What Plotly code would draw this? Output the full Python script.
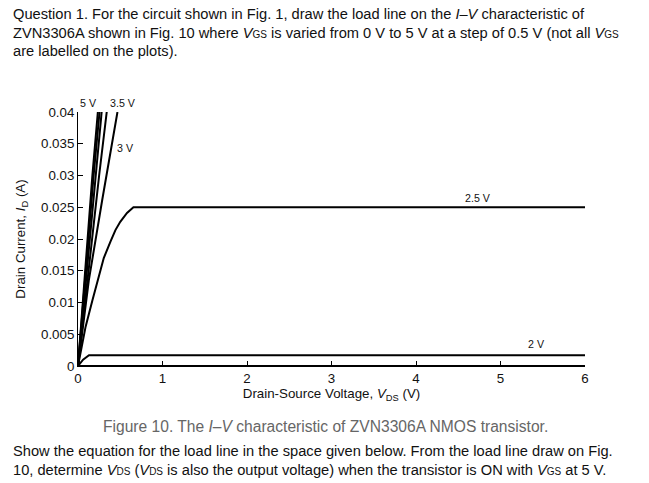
import plotly.graph_objects as go

# V_GS curves (V_DS in volts, I_D in amps)
vds_2v = [0, 0.06, 0.13, 6]
id_2v = [0, 0.001, 0.0017, 0.0017]
vds_25v = [0, 0.09, 0.17, 0.246, 0.305, 0.384, 0.443, 0.5, 0.58, 0.656, 6]
id_25v = [0, 0.0062, 0.0103, 0.0143, 0.017, 0.0196, 0.0214, 0.0227, 0.0241, 0.025, 0.025]
vds_3v = [0, 0.128, 0.286, 0.467]
id_3v = [0, 0.0135, 0.0261, 0.04]
vds_35v = [0, 0.08, 0.16, 0.25, 0.34]
id_35v = [0, 0.0095, 0.02, 0.03, 0.04]
vds_4v = [0, 0.07, 0.135, 0.205, 0.28]
id_4v = [0, 0.01, 0.02, 0.03, 0.04]
vds_45v = [0, 0.06, 0.12, 0.185, 0.255]
id_45v = [0, 0.01, 0.02, 0.03, 0.04]
vds_5v = [0, 0.055, 0.11, 0.17, 0.235]
id_5v = [0, 0.01, 0.02, 0.03, 0.04]
vds_off = [0, 6]
id_off = [0, 0]

x_ticks = [0, 1, 2, 3, 4, 5, 6]
y_ticks = [0, 0.005, 0.01, 0.015, 0.02, 0.025, 0.03, 0.035, 0.04]
y_labels = ["0", "0.005", "0.01", "0.015", "0.02", "0.025", "0.03", "0.035", "0.04"]

# the page body adds 8px around the figure, all pixel positions below are page pixels
PAGE = 8
W, H = 649 - PAGE, 483 - PAGE
LEFT, RIGHT, TOP, BOTTOM = 77.5, 585, 112, 366

fig = go.Figure()

curves = [(vds_off, id_off), (vds_2v, id_2v), (vds_25v, id_25v), (vds_3v, id_3v),
          (vds_35v, id_35v), (vds_4v, id_4v), (vds_45v, id_45v), (vds_5v, id_5v)]
for xs, ys in curves:
    fig.add_trace(go.Scatter(x=xs, y=ys, mode='lines', showlegend=False, cliponaxis=False,
                             line=dict(color='black', width=2)))


def px_text(x, y, text, size=14.67, color='#111111', anchor='left'):
    # text is placed by pixel position
    fig.add_annotation(xref='paper', yref='paper', x=(x - LEFT) / (RIGHT - LEFT),
                       y=(BOTTOM - y) / (BOTTOM - TOP), text=text, showarrow=False,
                       xanchor=anchor, yanchor='middle', align='left',
                       font=dict(size=size, color=color, family='Liberation Sans'))


# curve labels
px_text(88, 103, "5 V", size=10.67, anchor='center')
px_text(123, 103, "3.5 V", size=10.67, anchor='center')
px_text(125, 148, "3 V", size=10.67, anchor='center')
px_text(478, 198, "2.5 V", size=10.67, anchor='center')
px_text(536, 344, "2 V", size=10.67, anchor='center')

small = '<span style="font-size:10px">%s</span>'
px_text(10, 14, "Question 1. For the circuit shown in Fig. 1, draw the load line on the <i>I</i>–<i>V</i> characteristic of")
px_text(10, 33, "ZVN3306A shown in Fig. 10 where <i>V</i>" + small % "GS" +
        " is varied from 0 V to 5 V at a step of 0.5 V (not all <i>V</i>" + small % "GS")
px_text(10, 51, "are labelled on the plots).")
px_text(325, 426, "Figure 10. The <i>I</i>–<i>V</i> characteristic of ZVN3306A NMOS transistor.",
        size=15.6, color='#666666', anchor='center')
px_text(10, 451, "Show the equation for the load line in the space given below. From the load line draw on Fig.")
px_text(10, 470, "10, determine <i>V</i>" + small % "DS" + " (<i>V</i>" + small % "DS" +
        " is also the output voltage) when the transistor is ON with <i>V</i>" + small % "GS" + " at 5 V.")

fig.update_layout(
    width=W, height=H,
    margin=dict(l=LEFT - PAGE, r=W - (RIGHT - PAGE), t=TOP - PAGE, b=H - (BOTTOM - PAGE), pad=0),
    paper_bgcolor='white', plot_bgcolor='white',
    font=dict(family='Liberation Sans', size=13.33, color='#111111'),
)
fig.update_xaxes(range=[0, 6], tickmode='array', tickvals=x_ticks, ticks='inside', ticklen=5,
                 tickcolor='black', showgrid=False, zeroline=False, showline=True,
                 linecolor='black', linewidth=1,
                 title=dict(text="Drain-Source Voltage, <i>V</i><sub>DS</sub> (V)", standoff=3,
                            font=dict(size=13.33)))
fig.update_yaxes(range=[0, 0.04], tickmode='array', tickvals=y_ticks, ticktext=y_labels,
                 ticks='inside', ticklen=5, tickcolor='black', showgrid=False, zeroline=False,
                 showline=True, linecolor='black', linewidth=1,
                 title=dict(text="Drain Current, <i>I</i><sub>D</sub> (A)", standoff=12,
                            font=dict(size=13.33)))

fig.write_html("out.html")
